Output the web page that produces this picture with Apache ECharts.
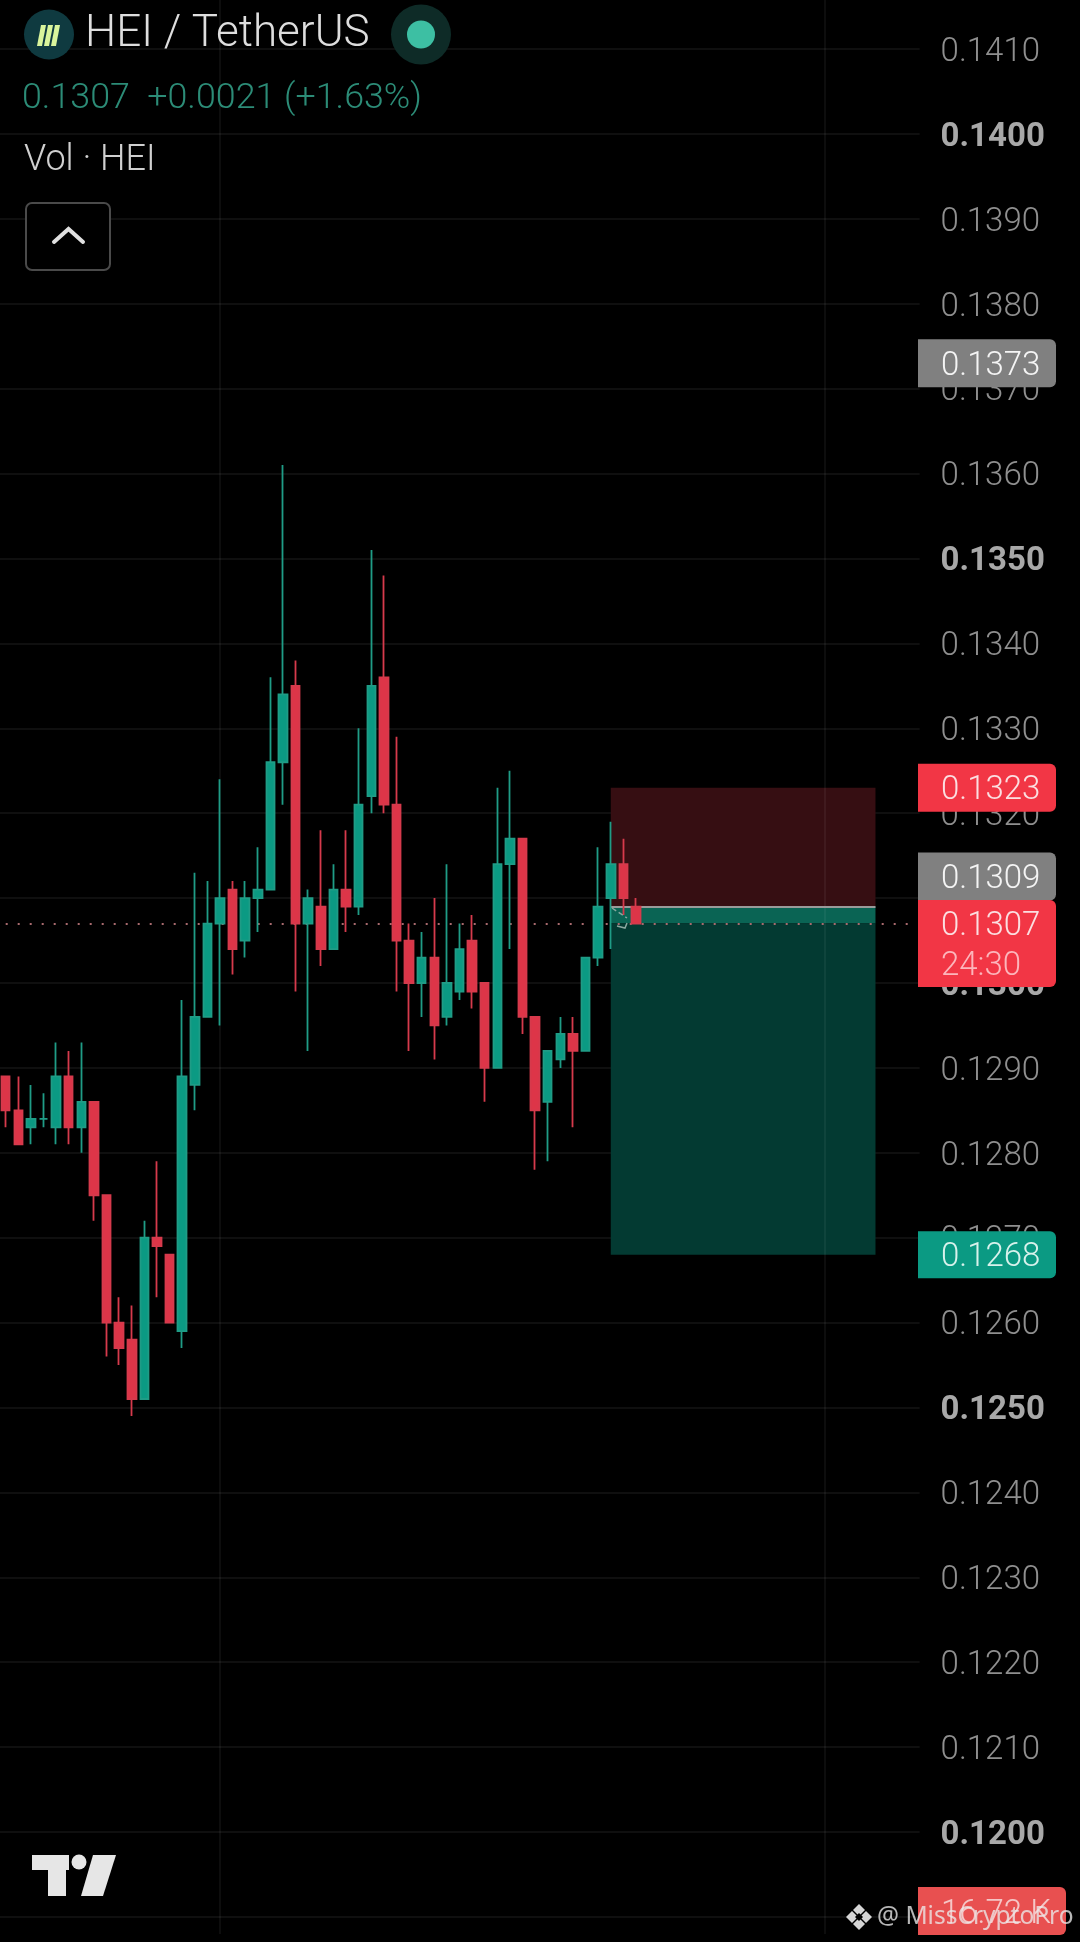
<!DOCTYPE html>
<html><head><meta charset="utf-8">
<style>html,body{margin:0;padding:0;background:#000}#c{width:1080px;height:1942px}</style>
<script src="https://cdn.jsdelivr.net/npm/echarts@6/dist/echarts.min.js"></script>
</head><body><div id="c"></div>
<script>
const openPrices =[.1289,.1285,.1283,.1284,.1283,.1289,.1283,.1286,.1275,.1260,.1258,.1251,.1270,.1268,.1259,.1288,.1296,.1307,.1311,.1305,.1310,.1311,.1326,.1335,.1307,.1309,.1304,.1311,.1309,.1322,.1336,.1321,.1305,.1300,.1303,.1296,.1299,.1305,.1300,.1290,.1314,.1317,.1296,.1286,.1291,.1294,.1292,.1303,.1310,.1314,.1309];
const closePrices=[.1285,.1281,.1284,.1284,.1289,.1283,.1286,.1275,.1260,.1257,.1251,.1270,.1269,.1260,.1289,.1296,.1307,.1310,.1304,.1310,.1311,.1326,.1334,.1307,.1310,.1304,.1311,.1309,.1321,.1335,.1321,.1305,.1300,.1303,.1295,.1300,.1304,.1299,.1290,.1314,.1317,.1296,.1285,.1292,.1294,.1292,.1303,.1309,.1314,.1310,.1307];
const lowPrices  =[.1283,.1281,.1281,.1283,.1281,.1281,.1280,.1272,.1256,.1255,.1249,.1251,.1263,.1260,.1257,.1285,.1296,.1295,.1301,.1303,.1306,.1311,.1321,.1299,.1292,.1302,.1304,.1306,.1308,.1320,.1320,.1299,.1292,.1296,.1291,.1295,.1298,.1297,.1286,.1290,.1304,.1294,.1278,.1279,.1290,.1283,.1292,.1302,.1304,.1308,.1307];
const highPrices =[.1289,.1289,.1288,.1287,.1293,.1292,.1293,.1286,.1275,.1263,.1262,.1272,.1279,.1268,.1298,.1313,.1312,.1324,.1312,.1312,.1316,.1336,.1361,.1338,.1311,.1318,.1314,.1318,.1330,.1351,.1348,.1329,.1307,.1306,.1310,.1314,.1307,.1308,.1300,.1323,.1325,.1317,.1296,.1292,.1296,.1296,.1303,.1316,.1319,.1317,.1310];
const slotCount = 73;
const gridVerticalSlots = [17, 65];
const currentPrice = 0.1307, entryPrice = 0.1309, stopPrice = 0.1323, targetPrice = 0.1268, linePrice = 0.1373;
const zoneFromSlot = 48, zoneToSlot = 69;
const headerTitle = 'HEI / TetherUS', headerQuote = '0.1307  +0.0021 (+1.63%)', headerVol = 'Vol · HEI';
const countdown = '24:30', volumeTag = '16.72 K', watermark = '@ MissCryptoPro';

const slots = []; for (let i = 0; i < slotCount; i++) slots.push('c' + i);
const candles = openPrices.map((o, i) => [o, closePrices[i], lowPrices[i], highPrices[i]]);
const UP = '#0b9a83', DOWN = '#dd3548', F = 'Roboto, sans-serif', AX = 33, GRID = '#151515', VGRID = 'rgba(255,255,255,.07)';
const chart = echarts.init(document.getElementById('c'), null, {renderer: 'canvas', width: 1080, height: 1942});
const zone = (a, b, color) => [{coord: ['c' + zoneFromSlot, a], itemStyle: {color}}, {coord: ['c' + zoneToSlot, b]}];
chart.setOption({
  animation: false, backgroundColor: '#000',
  grid: {left: -0.6, width: 920.2, top: -35.8, height: 2037.6, containLabel: false, outerBoundsMode: 'none'},
  xAxis: {type: 'category', data: slots, show: false},
  yAxis: {type: 'value', position: 'right', min: 0.118, max: 0.142, interval: 0.001, scale: true,
    axisLine: {show: false}, axisTick: {show: false},
    splitLine: {show: true, lineStyle: {color: GRID, width: 1.5}},
    axisLabel: {margin: 21, align: 'left', formatter: v => (Math.round(v * 10000) % 50 === 0 ? '{b|' : '{n|') + v.toFixed(4) + '}',
      rich: {n: {fontFamily: F, fontSize: AX, color: '#8f8f8f', fontWeight: 300, padding: [7, 0, 0, 0]}, b: {fontFamily: F, fontSize: AX, color: '#a8a8a8', fontWeight: 700, padding: [7, 0, 0, 0]}}}},
  series: [{
    type: 'candlestick', data: candles, z: 5, barWidth: 9,
    itemStyle: {color: UP, color0: DOWN, borderColor: '#1f9c86', borderColor0: '#d63a4c', borderColorDoji: '#1f9c86', borderWidth: 1.8},
    markArea: {silent: true, z: 1, itemStyle: {opacity: 1}, data: [
      zone(stopPrice, entryPrice, '#360e12'),
      zone(entryPrice, currentPrice, '#0a6454'),
      zone(currentPrice, targetPrice, '#033a32')]},
    markLine: {silent: true, z: 2, symbol: 'none', label: {show: false}, data: [
      [{coord: ['c' + gridVerticalSlots[0], 0.1416], lineStyle: {color: VGRID, width: 1.5, type: 'solid'}}, {coord: ['c' + gridVerticalSlots[0], 0.1188]}],
      [{coord: ['c' + gridVerticalSlots[1], 0.1416], lineStyle: {color: VGRID, width: 1.5, type: 'solid'}}, {coord: ['c' + gridVerticalSlots[1], 0.1188]}],
      [{coord: ['c0', currentPrice], lineStyle: {color: '#a86a6e', width: 2, type: [2, 10]}}, {coord: ['c' + (slotCount - 1), currentPrice]}],
      [{coord: ['c' + zoneFromSlot, entryPrice], lineStyle: {color: '#9a9a9a', width: 2, type: 'solid'}}, {coord: ['c' + zoneToSlot, entryPrice]}]
    ]}
  }]
});
const py = p => chart.convertToPixel({yAxisIndex: 0}, p);
const Z = 100, DY = 3.5;
const tag = (cy, h, fill, right) => ({type: 'rect', z: Z, shape: {x: 918, y: cy - h / 2, width: (right || 1056) - 918, height: h, r: [0, 6, 6, 0]}, style: {fill}});
const txt = (x, y, text, size, fill, extra) => ({type: 'text', z: Z + 1, x, y: y + DY, style: Object.assign({text, fontFamily: F, fontSize: size, fill, textVerticalAlign: 'middle', fontWeight: 300}, extra || {})});
const poly = (points, fill, z) => ({type: 'polygon', z: z || Z, shape: {points}, style: {fill}});
const W = '#d5d5d5';
const gfx = [
  tag(py(linePrice), 48, '#808080'), txt(941, py(linePrice), linePrice.toFixed(4), AX, '#f4f4f4'),
  tag(py(stopPrice), 48, '#f23645'), txt(941, py(stopPrice), stopPrice.toFixed(4), AX, '#fbdfe1'),
  tag(py(entryPrice) - 30, 48, '#808080'), txt(941, py(entryPrice) - 30, entryPrice.toFixed(4), AX, '#f4f4f4'),
  tag(py(currentPrice) + 20, 87, '#f23645'), txt(941, py(currentPrice), currentPrice.toFixed(4), AX, '#fbdfe1'), txt(941, py(currentPrice) + 40, countdown, AX, '#fcb6bc'),
  tag(py(targetPrice), 47, '#0b9a83'), txt(941, py(targetPrice), targetPrice.toFixed(4), AX, '#d8f2ec'),
  tag(1911, 48, '#e85050', 1066), txt(941, 1911, volumeTag, AX, '#f5c6c6'),
  // header
  {type: 'circle', z: Z, shape: {cx: 49, cy: 34.5, r: 25}, style: {fill: '#0f3a40'}},
  poly([[41,25],[46,25],[42,46],[37,46]], '#d9f59c', Z + 1), poly([[48,25],[53,25],[49,46],[44,46]], '#d9f59c', Z + 1), poly([[55,25],[60,25],[56,46],[51,46]], '#d9f59c', Z + 1),
  txt(85, 31, headerTitle, 44, '#dedede'),
  {type: 'circle', z: Z, shape: {cx: 421, cy: 34.5, r: 30}, style: {fill: '#0e2b27'}},
  {type: 'circle', z: Z + 1, shape: {cx: 421, cy: 34.5, r: 14}, style: {fill: '#3dbfa3'}},
  txt(22, 96, headerQuote, 35.8, '#2c8c77'),
  txt(24, 157, headerVol, 36, '#d0d0d0'),
  {type: 'rect', z: Z, shape: {x: 26, y: 203, width: 84, height: 67, r: 6}, style: {fill: '#000', stroke: '#4a4a4a', lineWidth: 2}},
  {type: 'polyline', z: Z + 1, shape: {points: [[54,242],[68.5,229],[83,242]]}, style: {stroke: '#e0e0e0', lineWidth: 4, fill: 'none', lineCap: 'round'}},
  // tradingview logo
  poly([[32,1855],[69,1855],[69,1870],[66,1870],[66,1896],[48,1896],[48,1870],[32,1870]], '#e6e6e6'),
  {type: 'circle', z: Z, shape: {cx: 79, cy: 1862, r: 7.5}, style: {fill: '#e6e6e6'}},
  poly([[93,1855],[116,1855],[103,1896],[81,1896]], '#e6e6e6'),
  // entry marker
  {type: 'polyline', z: 6, shape: {points: [[612,908],[627,918]]}, style: {stroke: '#8aa8a0', lineWidth: 1.5, lineDash: [5, 3], fill: 'none'}},
  {type: 'polyline', z: 6, shape: {points: [[617,926],[625,928],[627,923]]}, style: {stroke: '#8aa8a0', lineWidth: 1.5, fill: 'none'}},
  // watermark icon
  poly([[859,1904],[865,1910],[859,1916],[853,1910]], W, Z + 2), poly([[852,1911],[858,1917],[852,1923],[846,1917]], W, Z + 2),
  poly([[866,1911],[872,1917],[866,1923],[860,1917]], W, Z + 2), poly([[859,1918],[865,1924],[859,1930],[853,1924]], W, Z + 2),
  poly([[859,1913],[863,1917],[859,1921],[855,1917]], '#000', Z + 3),
  txt(877, 1914, watermark, 24.5, 'rgba(235,235,235,.78)', {fontFamily: '"Noto Sans", sans-serif', fontWeight: 400})
];
chart.setOption({graphic: {elements: gfx}});
</script></body></html>
